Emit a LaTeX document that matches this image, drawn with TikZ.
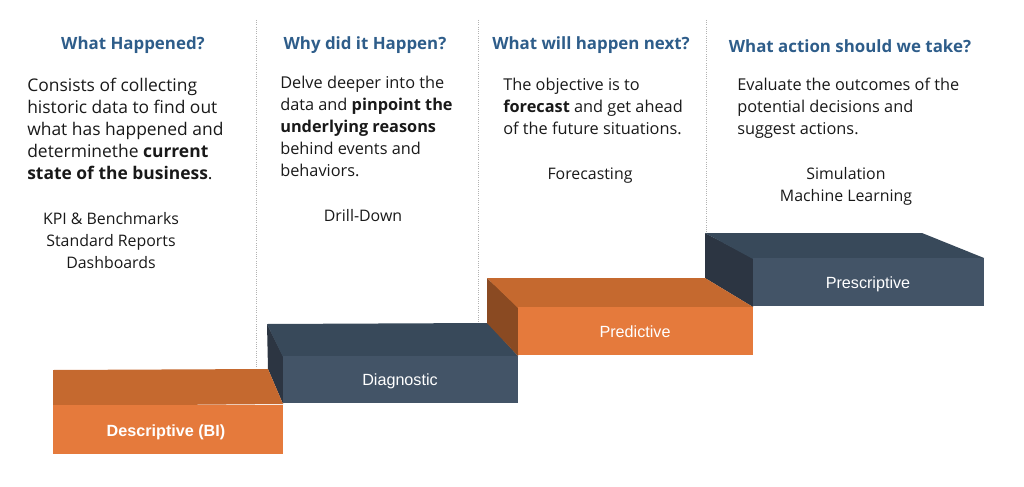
\documentclass[tikz,border=0pt]{standalone}
\usepackage{fontspec}
\setmainfont{Open Sans}
\newfontfamily\blockfont{Liberation Sans}
\definecolor{orF}{HTML}{E57A3C}\definecolor{orT}{HTML}{C5692F}\definecolor{orS}{HTML}{8A4A22}
\definecolor{nvF}{HTML}{435467}\definecolor{nvT}{HTML}{38495A}\definecolor{nvS}{HTML}{2C3542}
\definecolor{hdr}{HTML}{2E5D8A}
\begin{document}
\begin{tikzpicture}[x=0.025cm,y=-0.025cm,
  hd/.style={font=\fontsize{12}{14}\selectfont\bfseries, text=hdr, inner sep=0pt},
  body/.style={font=\fontsize{11.6}{15.6}\selectfont, align=left, anchor=north west, inner sep=0pt, text=black!90},
  lst/.style={font=\fontsize{11.3}{15.6}\selectfont, align=center, anchor=north, inner sep=0pt, text=black!90},
  blk/.style={font=\blockfont\fontsize{11.5}{14}\selectfont, text=white, inner sep=0pt},
  sep/.style={gray!60, densely dotted, line width=0.6pt}]
\useasboundingbox (0,0) rectangle (1024,486);
\draw[sep] (256,20) -- (256,370);
\draw[sep] (478,20) -- (478,323);
\draw[sep] (706,20) -- (706,233);
% block 2
\fill[nvS] (267,324) -- (283,356) -- (283,404) -- (268,369) -- cycle;
\fill[nvT] (267,324) -- (488,323) -- (518,356) -- (283,357) -- cycle;
\fill[nvF] (283,356) rectangle (518,403);
% block 1
\fill[orT] (53,370) -- (268,369) -- (283,404) -- (53,406) -- cycle;
\fill[orF] (53,405) rectangle (283,454);
% block 4
\fill[nvS] (705,233) -- (753,258) -- (753,307) -- (705,278) -- cycle;
\fill[nvT] (705,233) -- (922,233) -- (984,258) -- (753,259) -- cycle;
\fill[nvF] (753,258) rectangle (984,306);
% block 3
\fill[orS] (487,278) -- (518,307) -- (518,356) -- (487,323) -- cycle;
\fill[orT] (487,278) -- (705,278) -- (753,307) -- (518,308) -- cycle;
\fill[orF] (518,307) rectangle (753,355);
\node[blk,font=\blockfont\bfseries\fontsize{11.5}{14}\selectfont] (b1) at (166,432) {Descriptive (BI)};
\node[blk] (b2) at (400,381) {Diagnostic};
\node[blk] (b3) at (635,332) {Predictive};
\node[blk] (b4) at (868,284) {Prescriptive};
\node[hd] (h1) at (133,45) {What Happened?};
\node[hd] (h2) at (365,45) {Why did it Happen?};
\node[hd] (h3) at (591,45) {What will happen next?};
\node[hd] (h4) at (850,46) {What action should we take?};
\node[body,font=\fontsize{12.4}{15.6}\selectfont] (t1) at (27,78) {Consists of collecting\\historic data to find out\\what has happened and\\determinethe \textbf{current}\\\textbf{state of the business}.};
\node[body] (t2) at (280,76) {Delve deeper into the\\data and \textbf{pinpoint the}\\\textbf{underlying reasons}\\behind events and\\behaviors.};
\node[body] (t3) at (503,78) {The objective is to\\\textbf{forecast} and get ahead\\of the future situations.};
\node[body] (t4) at (737,78) {Evaluate the outcomes of the\\potential decisions and\\suggest actions.};
\node[lst] (l1) at (111,212) {KPI \& Benchmarks\\Standard Reports\\Dashboards};
\node[lst] (l2) at (363,209) {Drill-Down};
\node[lst] (l3) at (590,168) {Forecasting};
\node[lst] (l4) at (846,167) {Simulation\\Machine Learning};
\end{tikzpicture}
\end{document}
